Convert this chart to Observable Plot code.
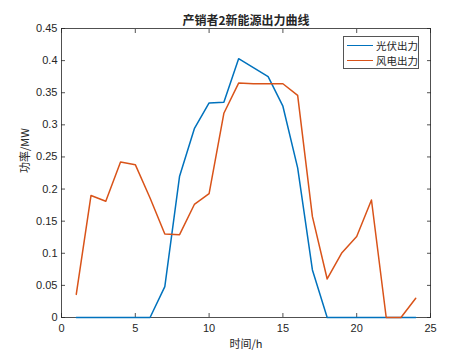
<!DOCTYPE html>
<html>
<head>
<meta charset="utf-8">
<script src="https://cdn.jsdelivr.net/npm/d3@7"></script>
<script src="https://cdn.jsdelivr.net/npm/@observablehq/plot@0.6"></script>
<style>
  body { margin: 0; background: #fff; }
  #wrap { position: relative; width: 474px; height: 355px; }
  .legend { position: absolute; left: 343px; top: 36px; width: 76px; height: 33px; border: 1px solid #555; background: #fff; font: 10.5px "Noto Sans CJK SC", sans-serif; line-height: 15.5px; color: #262626; box-sizing: border-box; white-space: nowrap; padding-top: 0.5px; }
  .legend .row { display: flex; align-items: center; height: 15.5px; padding-left: 3px; }
  .legend .sw { width: 26px; height: 0; border-top: 1.5px solid; margin-right: 3px; flex: none; }
</style>
</head>
<body>
<div id="wrap"></div>
<script>
const hours = [1,2,3,4,5,6,7,8,9,10,11,12,13,14,15,16,17,18,19,20,21,22,23,24];
const pv   = [0,0,0,0,0,0,0.048,0.220,0.294,0.334,0.335,0.403,0.389,0.375,0.329,0.233,0.074,0,0,0,0,0,0,0];
const wind = [0.036,0.190,0.181,0.242,0.238,0.186,0.130,0.129,0.176,0.193,0.318,0.365,0.364,0.364,0.364,0.346,0.157,0.060,0.101,0.126,0.183,0,0,0.030];
const seriesNames = ["光伏出力", "风电出力"];
const colors = ["#0072BD", "#D95319"];
const xTicks = [0,5,10,15,20,25];
const yTicks = [0,0.05,0.1,0.15,0.2,0.25,0.3,0.35,0.4,0.45];
const title = "产销者2新能源出力曲线";
const xLabel = "时间/h";
const yLabel = "功率/MW";

const data = [];
hours.forEach((h, i) => {
  data.push({h, v: pv[i], s: seriesNames[0]});
  data.push({h, v: wind[i], s: seriesNames[1]});
});

const fmt = d => d === 0 ? "0" : String(d);
const chart = Plot.plot({
  width: 474,
  height: 355,
  marginLeft: 61,
  marginRight: 44,
  marginTop: 28,
  marginBottom: 38,
  style: {fontFamily: "'Liberation Sans', Arial, sans-serif", fontSize: "11px", color: "#262626", background: "#fff"},
  x: {domain: [0, 25]},
  y: {domain: [0, 0.45]},
  color: {domain: seriesNames, range: colors},
  marks: [
    Plot.frame({stroke: "#262626", strokeWidth: 0.8}),
    Plot.axisX(xTicks, {anchor: "bottom", tickSize: -4, tickPadding: 11, tickFormat: fmt, label: null, fontSize: 11, stroke: "#262626", strokeWidth: 0.8}),
    Plot.axisX(xTicks, {anchor: "top", tickSize: -4, tickFormat: () => "", label: null, stroke: "#262626", strokeWidth: 0.8}),
    Plot.axisY(yTicks, {anchor: "left", tickSize: -4, tickPadding: 8, tickFormat: fmt, label: null, fontSize: 11, stroke: "#262626", strokeWidth: 0.8}),
    Plot.axisY(yTicks, {anchor: "right", tickSize: -4, tickFormat: () => "", label: null, stroke: "#262626", strokeWidth: 0.8}),
    Plot.line(data, {x: "h", y: "v", z: "s", stroke: "s", strokeWidth: 1.5}),
    Plot.text([title], {frameAnchor: "top", dy: -12, text: d => d, fontFamily: "'Noto Sans CJK SC', serif", fontWeight: "bold", fontSize: 12, fill: "#262626"}),
    Plot.text([xLabel], {frameAnchor: "bottom", dy: 30, text: d => d, fontFamily: "'Noto Sans CJK SC', sans-serif", fontSize: 11, fill: "#262626"}),
    Plot.text([yLabel], {frameAnchor: "left", dx: -36, rotate: -90, text: d => d, fontFamily: "'Noto Sans CJK SC', sans-serif", fontSize: 11, fill: "#262626"})
  ]
});
const wrap = document.getElementById("wrap");
wrap.appendChild(chart);

const legend = document.createElement("div");
legend.className = "legend";
seriesNames.forEach((n, i) => {
  const row = document.createElement("div");
  row.className = "row";
  const sw = document.createElement("span");
  sw.className = "sw";
  sw.style.borderColor = colors[i];
  const t = document.createElement("span");
  t.textContent = n;
  row.appendChild(sw);
  row.appendChild(t);
  legend.appendChild(row);
});
wrap.appendChild(legend);
</script>
</body>
</html>
